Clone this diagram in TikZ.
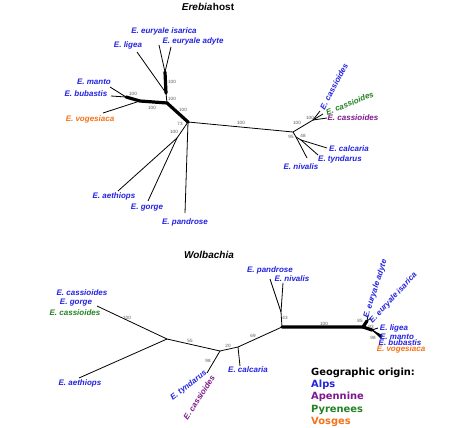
\documentclass[tikz,border=0pt]{standalone}
\usepackage{fontspec}
\usetikzlibrary{calc}
\setmainfont{Liberation Sans}
\newfontfamily\legfont{DejaVu Sans}
\definecolor{alps}{RGB}{35,35,225}
\definecolor{apen}{RGB}{125,25,140}
\definecolor{pyr}{RGB}{35,130,35}
\definecolor{vos}{RGB}{245,115,25}
\definecolor{bsgray}{RGB}{85,85,85}
\begin{document}
\begin{tikzpicture}[x=1pt,y=-1pt,
  lf/.style={font=\fontsize{8}{9}\selectfont\bfseries\itshape, inner sep=0pt},
  bs/.style={font=\fontsize{4.6}{5}\selectfont, text=bsgray, inner sep=0pt},
  br/.style={draw=black, line width=0.8pt},
  thk/.style={draw=black, line width=3.2pt, line cap=round},
  ttl/.style={font=\fontsize{10}{11}\selectfont\bfseries, inner sep=0pt},
  leg/.style={font=\fontsize{9.9}{11}\legfont\bfseries, inner sep=0pt, anchor=west}]
\useasboundingbox (0,0) rectangle (474,428);
\fill[white] (0,0) rectangle (474,428);

% ===== Titles =====
\node[ttl] (t1) at (208,7) {\textit{Erebia}\kern0.5pt host};
\node[ttl] (t2) at (209,255) {\textit{Wolbachia}};

% ===== Top tree (Erebia host) =====
\coordinate (A) at (188,122);
\coordinate (B) at (293,132);
\coordinate (C) at (167,103);
\coordinate (E) at (166,93);
\coordinate (F) at (165,72);
\coordinate (D) at (140,101);
\coordinate (D2) at (126,97);
\coordinate (G) at (177,138);
\coordinate (H) at (313,120);
\coordinate (I) at (296,137);
\coordinate (J) at (301,140);
% leaf ends
\coordinate (lIsa) at (159,45);
\coordinate (lAdy) at (171,47);
\coordinate (lLig) at (137,52);
\coordinate (lMan) at (110,87);
\coordinate (lBub) at (111,96);
\coordinate (lVog) at (103,113);
\coordinate (lAet) at (118,191);
\coordinate (lGor) at (148,201);
\coordinate (lPan) at (185,213);
\coordinate (lCa1) at (320,111);
\coordinate (lCa2) at (323,114);
\coordinate (lCa3) at (327,118);
\coordinate (lNiv) at (307,158);
\coordinate (lTyn) at (318,155);
\coordinate (lCal) at (327,148);

\draw[thk] (A) -- (C) -- (D) -- (D2);
\draw[thk] (E) -- (F);
\draw[br] (C) -- (E);
\draw[br] (F) -- (lIsa);
\draw[br] (F) -- (lAdy);
\draw[br] (E) -- (lLig);
\draw[br] (D2) -- (lMan);
\draw[br] (D2) -- (lBub);
\draw[br] (D) -- (lVog);
\draw[br] (A) -- (G);
\draw[br] (G) -- (lAet);
\draw[br] (G) -- (lGor);
\draw[br] (A) -- (lPan);
\draw[br] (A) -- (B);
\draw[br] (B) -- (H);
\draw[br] (H) -- (lCa1);
\draw[br] (H) -- (lCa2);
\draw[br] (H) -- (lCa3);
\draw[br] (B) -- (I) -- (J);
\draw[br] (I) -- (lNiv);
\draw[br] (J) -- (lTyn);
\draw[br] (J) -- (lCal);
\fill (A) circle (1.6pt);

% bootstrap values top
\node[bs] (b1) at (172,82) {100};
\node[bs] (b2) at (172,99) {100};
\node[bs] (b3) at (183,110) {100};
\node[bs] (b4) at (152,108) {100};
\node[bs] (b5) at (133,94) {100};
\node[bs] (b6) at (180,124) {73};
\node[bs] (b7) at (174,132) {100};
\node[bs] (b8) at (241,123) {100};
\node[bs] (b9) at (297,123) {100};
\node[bs] (b10) at (310,118) {100};
\node[bs] (b11) at (291,137) {95};
\node[bs] (b12) at (303,136) {48};

% leaf labels top
\node[lf, text=alps] (n1) at (164,31) {E. euryale isarica};
\node[lf, text=alps] (n2) at (193,41) {E. euryale adyte};
\node[lf, text=alps] (n3) at (128,45) {E. ligea};
\node[lf, text=alps] (n4) at (94,82) {E. manto};
\node[lf, text=alps] (n5) at (86,94) {E. bubastis};
\node[lf, text=vos] (n6) at (90,119) {E. vogesiaca};
\node[lf, text=alps] (n7) at (114,196) {E. aethiops};
\node[lf, text=alps] (n8) at (147,208) {E. gorge};
\node[lf, text=alps] (n9) at (185,222) {E. pandrose};
\node[lf, text=alps, anchor=west, rotate=62] (n10) at (322,109) {E. cassioides};
\node[lf, text=pyr, anchor=west, rotate=22] (n11) at (326,113) {E. cassioides};
\node[lf, text=apen] (n12) at (353,118) {E. cassioides};
\node[lf, text=alps] (n13) at (349,149) {E. calcaria};
\node[lf, text=alps] (n14) at (340,159) {E. tyndarus};
\node[lf, text=alps] (n15) at (301,167) {E. nivalis};

% ===== Bottom tree (Wolbachia) =====
\coordinate (K) at (167,339);
\coordinate (L) at (220,351);
\coordinate (M) at (238,347);
\coordinate (N) at (282,327);
\coordinate (P) at (281,312);
\coordinate (Q) at (363,327);
\coordinate (R) at (367,321);
\coordinate (S) at (372,330);
\coordinate (T) at (382,337);
\coordinate (mGor) at (97,306);
\coordinate (mAet) at (79,378);
\coordinate (mTyn) at (207,373);
\coordinate (mCal) at (240,366);
\coordinate (mPan) at (270,279);
\coordinate (mNiv) at (283,283);
\coordinate (mAdy) at (368,315);
\coordinate (mIsa) at (371,318);
\coordinate (mLig) at (378,328);

\draw[br] (K) -- (mGor);
\draw[br] (K) -- (mAet);
\draw[br] (K) -- (L) -- (M) -- (N);
\draw[br] (L) -- (mTyn);
\draw[br] (M) -- (mCal);
\draw[br] (N) -- (P);
\draw[br] (P) -- (mPan);
\draw[br] (P) -- (mNiv);
\draw[thk] (N) -- (Q) -- (R);
\draw[thk] (Q) -- (S);
\draw[br] (R) -- (mAdy);
\draw[br] (R) -- (mIsa);
\draw[br] (S) -- (mLig);
\fill (S) -- ($(T)+(0.5,-1.8)$) -- ($(T)+(-1.2,1.6)$) -- cycle;
\draw[br, line width=1.4pt] (S) -- (T);

% bootstrap bottom
\node[bs] (c1) at (127,318) {100};
\node[bs] (c2) at (190,341) {55};
\node[bs] (c3) at (208,361) {98};
\node[bs] (c4) at (228,346) {20};
\node[bs] (c5) at (253,336) {69};
\node[bs] (c6) at (285,318) {43};
\node[bs] (c7) at (324,324) {100};
\node[bs] (c8) at (360,321) {85};
\node[bs] (c9) at (371,327) {93};
\node[bs] (c10) at (373,338) {98};

% leaf labels bottom
\node[lf, text=alps] (m1) at (82,293) {E. cassioides};
\node[lf, text=alps] (m2) at (76,303) {E. gorge};
\node[lf, text=pyr] (m3) at (75,313) {E. cassioides};
\node[lf, text=alps] (m4) at (80,383) {E. aethiops};
\node[lf, text=alps, anchor=east, rotate=38] (m5) at (206,372) {E. tyndarus};
\node[lf, text=apen, anchor=east, rotate=57] (m6) at (213,376) {E. cassioides};
\node[lf, text=alps] (m7) at (248,370) {E. calcaria};
\node[lf, text=alps] (m8) at (270,270) {E. pandrose};
\node[lf, text=alps] (m9) at (292,279) {E. nivalis};
\node[lf, text=alps, anchor=west, rotate=72] (m10) at (366,318) {E. euryale adyte};
\node[lf, text=alps, anchor=west, rotate=47] (m11) at (371,322) {E. euryale isarica};
\node[lf, text=alps] (m12) at (394,328) {E. ligea};
\node[lf, text=alps] (m13) at (397,337) {E. manto};
\node[lf, text=alps] (m14) at (400,343) {E. bubastis};
\node[lf, text=vos] (m15) at (401,349) {E. vogesiaca};

% ===== Legend =====
\node[leg, text=black] (g0) at (311,373) {Geographic origin:};
\node[leg, text=alps] (g1) at (311,385) {Alps};
\node[leg, text=apen] (g2) at (311,397) {Apennine};
\node[leg, text=pyr] (g3) at (311,410) {Pyrenees};
\node[leg, text=vos] (g4) at (311,422) {Vosges};
\end{tikzpicture}
\end{document}
